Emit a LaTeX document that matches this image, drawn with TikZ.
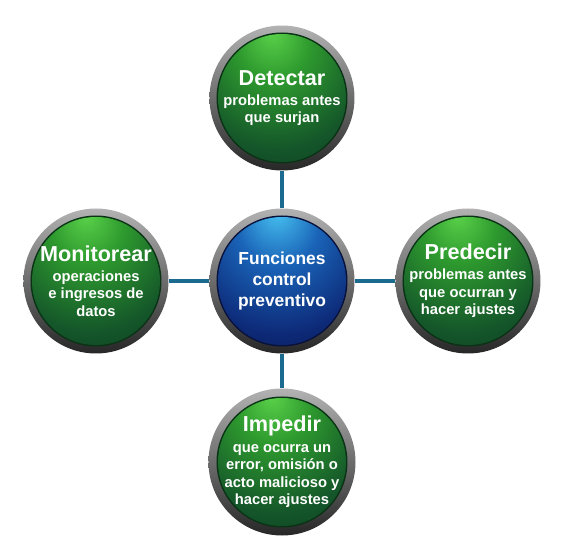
\documentclass[tikz,border=0pt]{standalone}
\usepackage{fontspec}
\setmainfont{Liberation Sans}
\usetikzlibrary{positioning}

\definecolor{linkblue}{HTML}{1B6A90}
\definecolor{gtop}{HTML}{5AD24A}
\definecolor{gmid}{HTML}{2E9A2E}
\definecolor{glow}{HTML}{15582A}
\definecolor{gdark}{HTML}{0A3320}
\definecolor{gedge}{HTML}{0A3315}
\definecolor{btop}{HTML}{48C4F2}
\definecolor{bmid}{HTML}{1A64B8}
\definecolor{blow}{HTML}{0D2A78}
\definecolor{bdark}{HTML}{080F40}
\definecolor{bedge}{HTML}{08123C}

\pgfdeclareradialshading{greenball}{\pgfpoint{-4bp}{26bp}}{color(0bp)=(gtop); color(14bp)=(gmid); color(34bp)=(glow); color(52bp)=(gdark); color(80bp)=(gdark)}
\pgfdeclareradialshading{blueball}{\pgfpoint{-2bp}{28bp}}{color(0bp)=(btop); color(16bp)=(bmid); color(36bp)=(blow); color(54bp)=(bdark); color(80bp)=(bdark)}

\begin{document}
\begin{tikzpicture}[auto ,node distance =3.66cm and 3.72cm ,on grid ,
ring/.style ={ circle ,inner sep =0pt ,minimum size =2.9cm ,
top color =gray!60 ,bottom color =black!85 ,text =white ,align =center ,
font =\bfseries\fontsize{8.4}{10}\selectfont},
green/.style ={ ring ,path picture ={
\fill[gedge] (path picture bounding box.center) circle (1.31cm);
\shade[shading =greenball] (path picture bounding box.center) circle (1.28cm);}},
blue/.style ={ ring ,font =\bfseries\fontsize{9.9}{11.9}\selectfont ,path picture ={
\fill[bedge] (path picture bounding box.center) circle (1.31cm);
\shade[shading =blueball] (path picture bounding box.center) circle (1.28cm);}},
link/.style ={ draw =linkblue ,line width =2.8pt}]
\useasboundingbox (-5.64,-5.38) rectangle (5.64,5.62);
\node[blue] (C) at (0,0) {Funciones\\ control\\ preventivo};
\node[green] (D) [above = of C] {{\fontsize{12.3}{13}\selectfont Detectar}\\[1.5pt] problemas antes\\ que surjan};
\node[green] (P) [right = of C] {{\fontsize{12.3}{13}\selectfont Predecir}\\[1.5pt] problemas antes\\ que ocurran y\\ hacer ajustes};
\node[green] (I) [below = 3.62cm of C] {{\fontsize{12.3}{13}\selectfont Impedir}\\[1.5pt] que ocurra un\\ error, omisión o\\ acto malicioso y\\ hacer ajustes};
\node[green] (M) [left = of C] {{\fontsize{12.3}{13}\selectfont Monitorear}\\[1.5pt] operaciones\\ e ingresos de\\ datos};
\draw[link] (C) -- (D);
\draw[link] (C) -- (P);
\draw[link] (C) -- (I);
\draw[link] (C) -- (M);
\end{tikzpicture}
\end{document}
